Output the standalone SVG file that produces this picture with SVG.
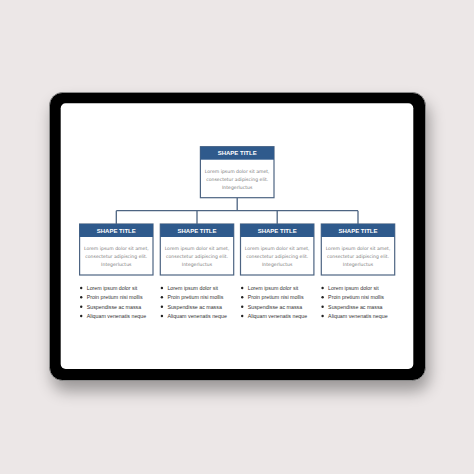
<svg xmlns="http://www.w3.org/2000/svg" width="474" height="474" viewBox="0 0 474 474">
<defs>
<filter id="sh" x="-20%" y="-20%" width="140%" height="150%">
<feGaussianBlur in="SourceAlpha" stdDeviation="8"/>
<feOffset dx="3" dy="10"/>
<feComponentTransfer><feFuncA type="linear" slope="0.35"/></feComponentTransfer>
<feMerge><feMergeNode/><feMergeNode in="SourceGraphic"/></feMerge>
</filter>
<style>
.box{fill:#fff;stroke:#4d6482;stroke-width:1.2}
.hdr{fill:#2f5a8c}
.ttl{font-family:"Liberation Sans",Arial,sans-serif;font-size:6px;font-weight:bold;fill:#fff;text-anchor:middle}
.body{font-family:"DejaVu Sans",sans-serif;font-size:4.6px;fill:#7a7a7a;text-anchor:middle}
.bl{font-family:"Liberation Sans",Arial,sans-serif;font-size:5.3px;fill:#333}
.con{fill:none;stroke:#4d6482;stroke-width:1.3}
</style>
</defs>
<rect x="0" y="0" width="474" height="474" fill="#ece7e7"/>
<rect x="49.5" y="92.5" width="376" height="288" rx="13" fill="#000" stroke="#8a8a8a" stroke-width="1" filter="url(#sh)"/>
<rect x="60.7" y="103.3" width="352.6" height="265.7" rx="5" fill="#fff"/>
<g id="connectors">
<path class="con" d="M237.2,198 V210.7 M116.3,210.7 H358 M116.3,210.7 V224 M197,210.7 V224 M277.2,210.7 V224 M358,210.7 V224"/>
</g>
<g id="top">
<rect class="box" x="200.4" y="146.7" width="73.6" height="51"/>
<rect class="hdr" x="200.4" y="146.7" width="73.6" height="13"/>
<text class="ttl" x="237.2" y="155.4">SHAPE TITLE</text>
<text class="body" x="237.2" y="172.6">Lorem ipsum dolor sit amet,</text>
<text class="body" x="237.2" y="180.8">consectetur adipiscing elit.</text>
<text class="body" x="237.2" y="189">Integerluctus</text>
</g>
<g id="c1">
<rect class="box" x="79.6" y="224" width="73.4" height="51"/>
<rect class="hdr" x="79.6" y="224" width="73.4" height="13"/>
<text class="ttl" x="116.3" y="232.7">SHAPE TITLE</text>
<text class="body" x="116.3" y="249.9">Lorem ipsum dolor sit amet,</text>
<text class="body" x="116.3" y="258.1">consectetur adipiscing elit.</text>
<text class="body" x="116.3" y="266.3">Integerluctus</text>
</g>
<g id="c2">
<rect class="box" x="160.3" y="224" width="73.4" height="51"/>
<rect class="hdr" x="160.3" y="224" width="73.4" height="13"/>
<text class="ttl" x="197" y="232.7">SHAPE TITLE</text>
<text class="body" x="197" y="249.9">Lorem ipsum dolor sit amet,</text>
<text class="body" x="197" y="258.1">consectetur adipiscing elit.</text>
<text class="body" x="197" y="266.3">Integerluctus</text>
</g>
<g id="c3">
<rect class="box" x="240.5" y="224" width="73.4" height="51"/>
<rect class="hdr" x="240.5" y="224" width="73.4" height="13"/>
<text class="ttl" x="277.2" y="232.7">SHAPE TITLE</text>
<text class="body" x="277.2" y="249.9">Lorem ipsum dolor sit amet,</text>
<text class="body" x="277.2" y="258.1">consectetur adipiscing elit.</text>
<text class="body" x="277.2" y="266.3">Integerluctus</text>
</g>
<g id="c4">
<rect class="box" x="321.3" y="224" width="73.4" height="51"/>
<rect class="hdr" x="321.3" y="224" width="73.4" height="13"/>
<text class="ttl" x="358" y="232.7">SHAPE TITLE</text>
<text class="body" x="358" y="249.9">Lorem ipsum dolor sit amet,</text>
<text class="body" x="358" y="258.1">consectetur adipiscing elit.</text>
<text class="body" x="358" y="266.3">Integerluctus</text>
</g>
<g id="lists" fill="#222">
<g>
<circle cx="81.2" cy="288" r="1.2"/><circle cx="81.2" cy="297.3" r="1.2"/><circle cx="81.2" cy="306.7" r="1.2"/><circle cx="81.2" cy="316" r="1.2"/>
<text class="bl" x="86.7" y="289.9">Lorem ipsum dolor sit</text>
<text class="bl" x="86.7" y="299.2">Proin pretium nisi mollis</text>
<text class="bl" x="86.7" y="308.6">Suspendisse ac massa</text>
<text class="bl" x="86.7" y="317.9">Aliquam venenatis neque</text>
</g>
<g>
<circle cx="161.9" cy="288" r="1.2"/><circle cx="161.9" cy="297.3" r="1.2"/><circle cx="161.9" cy="306.7" r="1.2"/><circle cx="161.9" cy="316" r="1.2"/>
<text class="bl" x="167.4" y="289.9">Lorem ipsum dolor sit</text>
<text class="bl" x="167.4" y="299.2">Proin pretium nisi mollis</text>
<text class="bl" x="167.4" y="308.6">Suspendisse ac massa</text>
<text class="bl" x="167.4" y="317.9">Aliquam venenatis neque</text>
</g>
<g>
<circle cx="242.2" cy="288" r="1.2"/><circle cx="242.2" cy="297.3" r="1.2"/><circle cx="242.2" cy="306.7" r="1.2"/><circle cx="242.2" cy="316" r="1.2"/>
<text class="bl" x="247.7" y="289.9">Lorem ipsum dolor sit</text>
<text class="bl" x="247.7" y="299.2">Proin pretium nisi mollis</text>
<text class="bl" x="247.7" y="308.6">Suspendisse ac massa</text>
<text class="bl" x="247.7" y="317.9">Aliquam venenatis neque</text>
</g>
<g>
<circle cx="322.6" cy="288" r="1.2"/><circle cx="322.6" cy="297.3" r="1.2"/><circle cx="322.6" cy="306.7" r="1.2"/><circle cx="322.6" cy="316" r="1.2"/>
<text class="bl" x="328.1" y="289.9">Lorem ipsum dolor sit</text>
<text class="bl" x="328.1" y="299.2">Proin pretium nisi mollis</text>
<text class="bl" x="328.1" y="308.6">Suspendisse ac massa</text>
<text class="bl" x="328.1" y="317.9">Aliquam venenatis neque</text>
</g>
</g>
</svg>
